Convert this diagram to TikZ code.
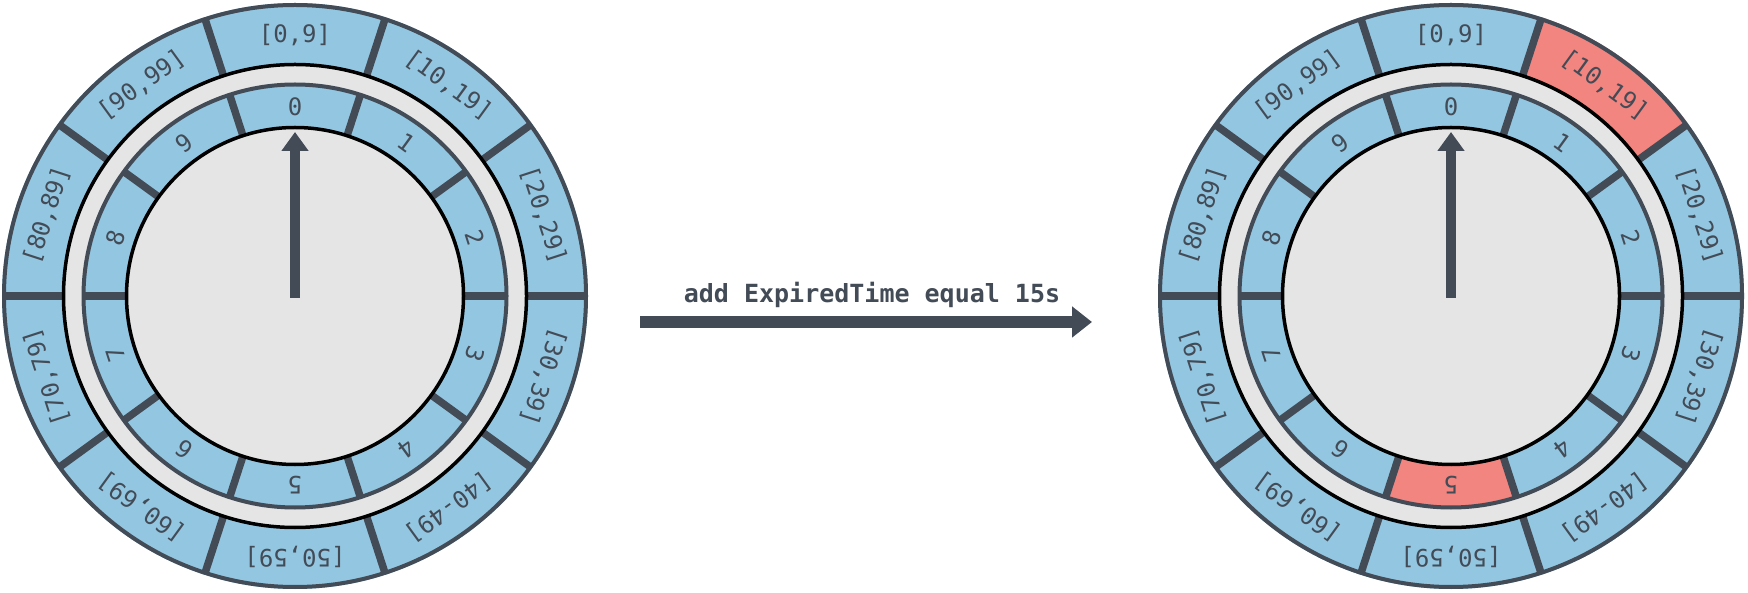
\documentclass[tikz,border=0pt]{standalone}
\usepackage{fontspec}
\newfontfamily\wmono{DejaVu Sans Mono}
\usetikzlibrary{arrows.meta}
\definecolor{ringblue}{HTML}{93C7E1}
\definecolor{hotred}{HTML}{F2857F}
\definecolor{dialgray}{HTML}{E5E5E5}
\definecolor{slate}{HTML}{434B57}
\tikzset{
  spoke/.style={draw=slate, line width=7.5pt},
  rimline/.style={draw=slate, line width=4pt},
  blackline/.style={draw=black, line width=3.5pt},
  ringlabel/.style={text=slate, font=\wmono\fontsize{24}{28}\selectfont, inner sep=0pt},
  arrowlabel/.style={text=slate, font=\wmono\bfseries\fontsize{25}{30}\selectfont, inner sep=0pt},
  pointer/.style={draw=slate, line width=10pt, -{Triangle[length=19pt,width=26pt]}},
  bigarrow/.style={draw=slate, line width=12pt, -{Triangle[length=20pt,width=30pt]}}
}
\newcommand\drawwheel[3]{%
\begin{scope}[shift={#1}]
  \coordinate (#2c) at (0,0);
  \fill[ringblue] (0,0) circle[radius=293];
  \ifnum#3=1 \fill[hotred] (0,0) -- (36:293) arc[start angle=36,end angle=72,radius=293] -- cycle;\fi
  \foreach \a in {0,36,...,324} \draw[spoke] (\a:230) -- (\a:292);
  \draw[rimline] (0,0) circle[radius=291];
  \draw[blackline, fill=dialgray] (0,0) circle[radius=231.5];
  \fill[ringblue] (0,0) circle[radius=213];
  \ifnum#3=1 \fill[hotred] (0,0) -- (252:213) arc[start angle=252,end angle=288,radius=213] -- cycle;\fi
  \foreach \a in {0,36,...,324} \draw[spoke] (\a:168) -- (\a:212);
  \draw[rimline] (0,0) circle[radius=211.5];
  \draw[blackline, fill=dialgray] (0,0) circle[radius=168.5];
  \foreach \lab [count=\k from 0] in {{[0,9]},{[10,19]},{[20,29]},{[30,39]},{[40-49]},{[50,59]},{[60,69]},{[70,79]},{[80,89]},{[90,99]}}
    \node[ringlabel, rotate=-36*\k] (#2o\k) at ({90-36*\k}:261) {\lab};
  \foreach \k in {0,...,9}
    \node[ringlabel, rotate=-36*\k] (#2i\k) at ({90-36*\k}:189) {\k};
  \coordinate (#2tip) at (0,164);
  \coordinate (#2base) at (0,-2);
  \draw[pointer] (#2base) -- (#2tip);
\end{scope}}
\begin{document}
\begin{tikzpicture}[x=1pt,y=1pt]
  \useasboundingbox (0,0) rectangle (1748,592);
  \drawwheel{(295,296)}{L}{0}
  \drawwheel{(1451,296)}{R}{1}
  \node[arrowlabel] (lbl) at (872,297) {add ExpiredTime equal 15s};
  \coordinate (as) at (640,270);
  \coordinate (ae) at (1092,270);
  \draw[bigarrow] (as) -- (ae);
\end{tikzpicture}
\end{document}
